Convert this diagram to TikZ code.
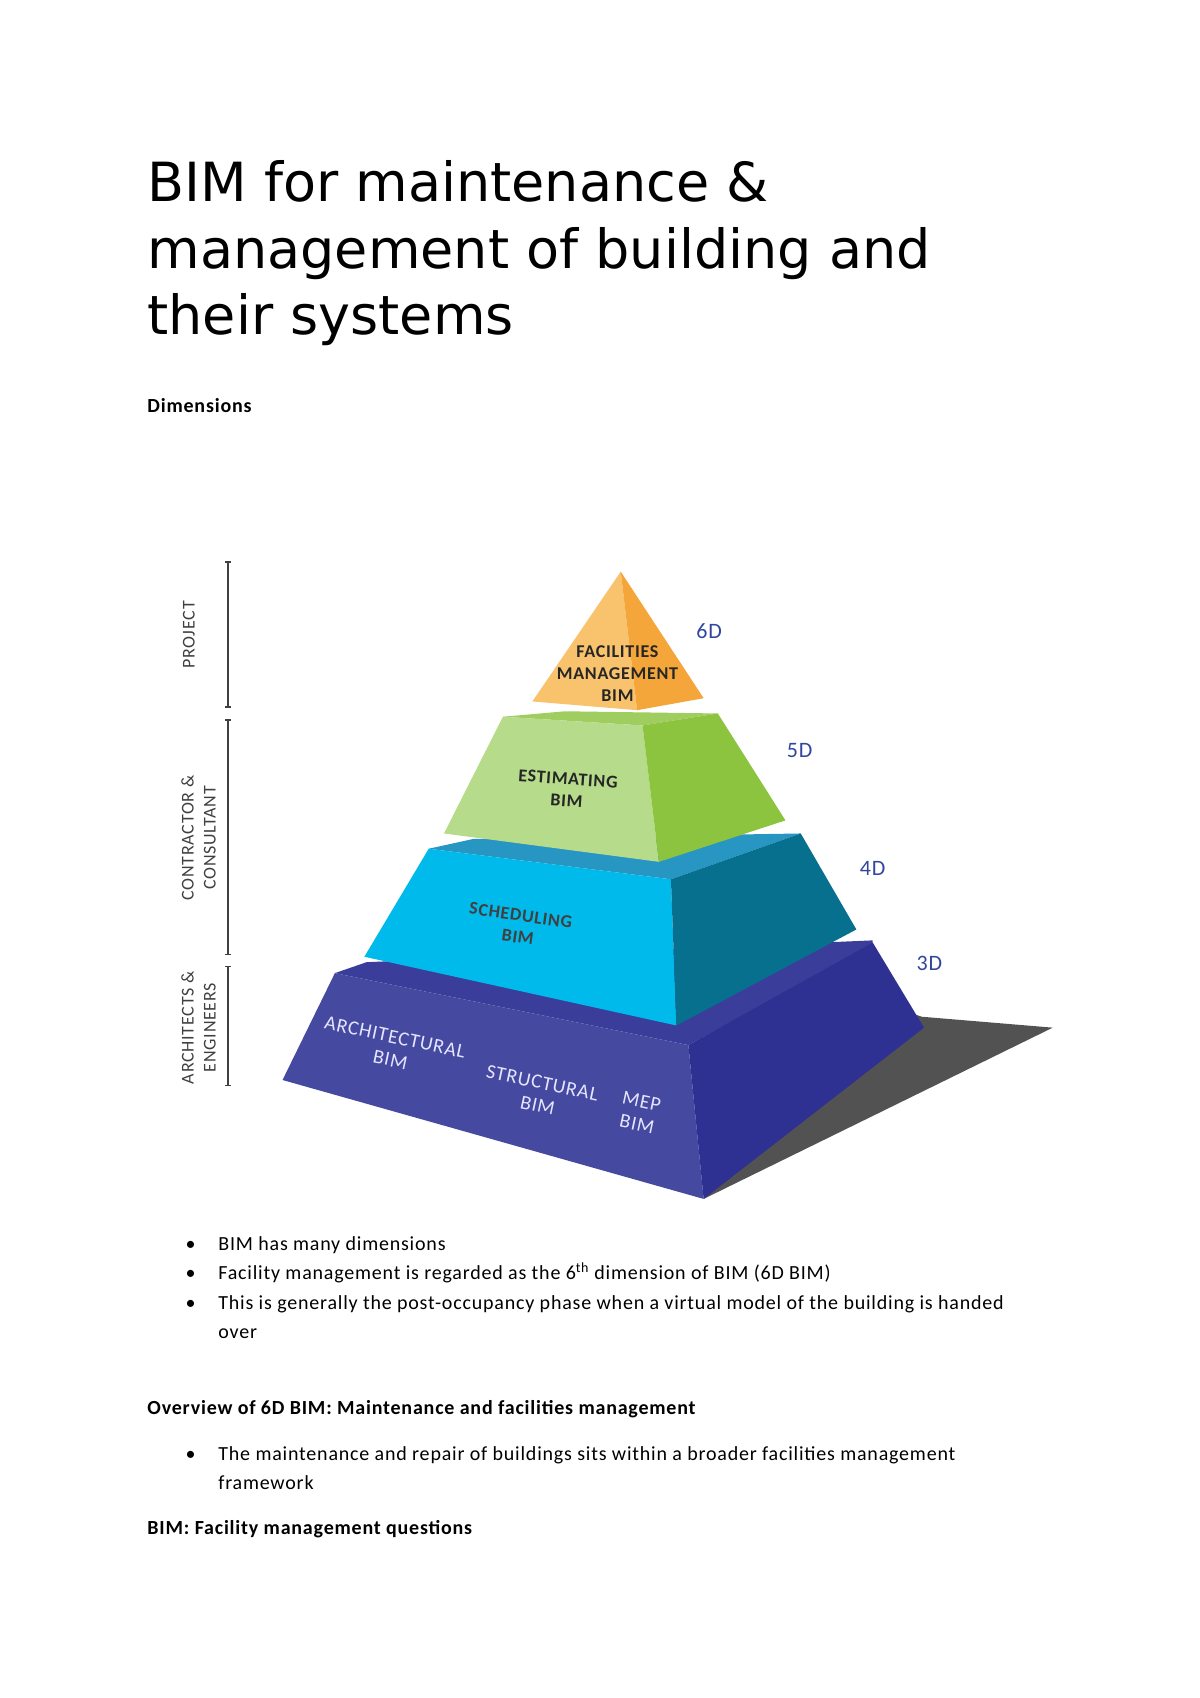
\documentclass[tikz,border=0pt]{standalone}
\usepackage{fontspec}
\setmainfont{Carlito}[LetterSpace=4]
\newfontfamily\titlefont{DejaVu Sans}
\begin{document}
\begin{tikzpicture}[x=1.0909pt,y=-1.0909pt,
  txt/.style={anchor=base west,inner sep=0pt,font=\fontsize{20}{24}\selectfont},
  hd/.style={txt,font=\fontsize{20}{24}\selectfont\bfseries},
  lab/.style={font=\fontsize{18}{22}\selectfont,text=black!75,align=center,inner sep=0pt},
  ly/.style={lab,font=\fontsize{18}{22}\bfseries\selectfont,text=black!85},
  lw/.style={lab,font=\fontsize{20}{23}\selectfont,text=white!90!blue,rotate=-12},
  dl/.style={font=\fontsize{22}{24}\selectfont,text={rgb,255:red,50;green,70;blue,160},inner sep=0pt},
  bar/.style={line width=1.5pt,black!75}]
\useasboundingbox (0,0) rectangle (1100,1556.5);
\fill[white] (0,0) rectangle (1100,1556.5);
% title
\node[txt,font=\titlefont\fontsize{54}{62}\selectfont] (t1) at (135,185) {BIM for maintenance \&};
\node[txt,font=\titlefont\fontsize{54}{62}\selectfont] (t2) at (135,246) {management of building and};
\node[txt,font=\titlefont\fontsize{54}{62}\selectfont] (t3) at (135,307) {their systems};
\node[hd] (dim) at (135,378) {Dimensions};
% side bars
\foreach \a/\b/\n in {515/648/p,660/875/c,886/995/e}{
  \coordinate (\n1) at (209,\a); \coordinate (\n2) at (209,\b);
  \draw[bar] (\n1) -- (\n2);
  \draw[bar] ([xshift=-3pt]\n1) -- ([xshift=3pt]\n1);
  \draw[bar] ([xshift=-3pt]\n2) -- ([xshift=3pt]\n2);}
\node[lab,rotate=90] (lp) at (173,582) {PROJECT};
\node[lab,rotate=90] (lc) at (182,768) {CONTRACTOR \&\\CONSULTANT};
\node[lab,rotate=90] (le) at (182,942) {ARCHITECTS \&\\ENGINEERS};
% shadow
\fill[black!68] (780,910) -- (845,932) -- (965,942) -- (645,1099) -- cycle;
% blue layer
\fill[fill={rgb,255:red,58;green,62;blue,154}] (307,892) -- (336,882) -- (800,862) -- (800,866) -- (631,958) -- cycle;
\fill[fill={rgb,255:red,69;green,73;blue,160}] (307,892) -- (631,958) -- (645,1099) -- (259,990) -- cycle;
\fill[fill={rgb,255:red,46;green,49;blue,146}] (631,958) -- (800,864) -- (847,942) -- (645,1099) -- cycle;
% cyan layer
\fill[fill={rgb,255:red,40;green,150;blue,195}] (393,778) -- (434,769) -- (734,764) -- (615,806) -- cycle;
\fill[fill={rgb,255:red,0;green,186;blue,235}] (393,778) -- (615,806) -- (620,940) -- (334,877) -- cycle;
\fill[fill={rgb,255:red,7;green,112;blue,143}] (615,806) -- (734,764) -- (785,852) -- (620,940) -- cycle;
% green layer
\fill[fill={rgb,255:red,160;green,205;blue,96}] (461,657) -- (518,652) -- (658,654) -- (589,665) -- cycle;
\fill[fill={rgb,255:red,182;green,219;blue,138}] (461,657) -- (589,665) -- (604,790) -- (407,764) -- cycle;
\fill[fill={rgb,255:red,140;green,196;blue,63}] (589,665) -- (658,654) -- (720,752) -- (604,790) -- cycle;
% orange
\fill[fill={rgb,255:red,249;green,195;blue,110}] (569,524) -- (584,651) -- (488,643) -- cycle;
\fill[fill={rgb,255:red,244;green,166;blue,58}] (569,524) -- (645,640) -- (584,651) -- cycle;
% layer texts
\node[ly] (fm) at (566,617) {FACILITIES\\MANAGEMENT\\BIM};
\node[ly,rotate=-4] (es) at (520,724) {ESTIMATING\\BIM};
\node[ly,rotate=-8,text=black!75] (sc) at (476,849) {SCHEDULING\\BIM};
\node[lw] (ar) at (360,961) {ARCHITECTURAL\\BIM};
\node[lw] (st) at (495,1003) {STRUCTURAL\\BIM};
\node[lw] (me) at (586,1020) {MEP\\BIM};
\node[dl] (d6) at (650,579) {6D};
\node[dl] (d5) at (733,688) {5D};
\node[dl] (d4) at (800,796) {4D};
\node[dl] (d3) at (852,883) {3D};
% bullets
\foreach \y/\n in {1146/b1,1173/b2,1200/b3,1339/b4}{\node[txt] (\n) at (170,\y) {•};}
\node[txt] (l1) at (200,1146) {BIM has many dimensions};
\node[txt] (l2) at (200,1173) {Facility management is regarded as the 6\textsuperscript{th} dimension of BIM (6D BIM)};
\node[txt] (l3) at (200,1200) {This is generally the post-occupancy phase when a virtual model of the building is handed};
\node[txt] (l3b) at (200,1227) {over};
\node[hd] (h2) at (135,1297) {Overview of 6D BIM: Maintenance and facilities management};
\node[txt] (l4) at (200,1339) {The maintenance and repair of buildings sits within a broader facilities management};
\node[txt] (l4b) at (200,1365) {framework};
\node[hd] (h3) at (135,1407) {BIM: Facility management questions};
\end{tikzpicture}
\end{document}
